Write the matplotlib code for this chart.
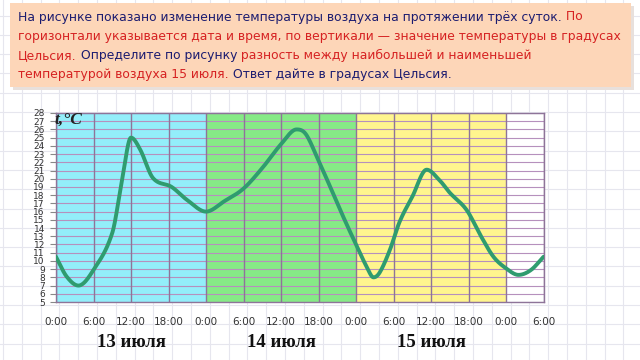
import numpy as np
import matplotlib.pyplot as plt
from matplotlib.patches import FancyBboxPatch
from matplotlib.transforms import blended_transform_factory

# ---- data (hours since 13 July 0:00, deg C) ----
hours = [0, 1.7, 3.6, 6, 9, 10.5, 12, 13.5, 15.5, 18.5, 21, 24, 27, 30, 33, 36,
         38.5, 40, 42, 44, 46, 48, 49.7, 50.8, 51.8, 53.4, 55, 57, 59.3, 61.5,
         63, 65.7, 68, 70, 72, 74, 76, 78]
temps = [10.5, 8.1, 7, 8.9, 13.4, 19.5, 25, 23.5, 20.1, 19, 17.4, 16, 17.3, 18.8,
         21.3, 24.2, 26, 25.4, 22.2, 18.8, 15.3, 12, 9.3, 8, 8.6, 11.3, 14.8,
         17.8, 21.1, 19.7, 18.3, 16.2, 13, 10.5, 9.1, 8.3, 8.9, 10.5]

tick_hours = list(range(0, 79, 6))
tick_labels = ["0:00", "6:00", "12:00", "18:00"] * 3 + ["0:00", "6:00"]
day_names = ["13 июля", "14 июля", "15 июля"]
day_colors = ["#93eefa", "#86ea86", "#fff58e", "#ffffff"]

lines_text = [
    [("На рисунке показано изменение температуры воздуха на протяжении трёх суток.", "navy"),
     (" По", "red")],
    [("горизонтали указывается дата и время, по вертикали — значение температуры в градусах", "red")],
    [("Цельсия.", "red"), (" Определите по рисунку", "navy"),
     (" разность между наибольшей и наименьшей", "red")],
    [("температурой воздуха 15 июля.", "red"), (" Ответ дайте в градусах Цельсия.", "navy")],
]
text_colors = {"navy": "#1c1c70", "red": "#d62222"}


def smooth(x, y, n=30):
    """Cubic Hermite curve through the points (flat at peaks), for drawing only."""
    x = np.asarray(x, float)
    y = np.asarray(y, float)
    m = np.zeros_like(y)
    m[0] = (y[1] - y[0]) / (x[1] - x[0])
    m[-1] = (y[-1] - y[-2]) / (x[-1] - x[-2])
    for i in range(1, len(x) - 1):
        a, b = y[i] - y[i - 1], y[i + 1] - y[i]
        if a * b > 0:
            m[i] = (y[i + 1] - y[i - 1]) / (x[i + 1] - x[i - 1])
    xs, ys = [], []
    for i in range(len(x) - 1):
        h = x[i + 1] - x[i]
        t = np.linspace(0, 1, n, endpoint=False)
        h00 = 2 * t**3 - 3 * t**2 + 1
        h10 = t**3 - 2 * t**2 + t
        h01 = -2 * t**3 + 3 * t**2
        h11 = t**3 - t**2
        xs.append(x[i] + t * h)
        ys.append(h00 * y[i] + h10 * h * m[i] + h01 * y[i + 1] + h11 * h * m[i + 1])
    return np.concatenate(xs + [[x[-1]]]), np.concatenate(ys + [[y[-1]]])


fig = plt.figure(figsize=(6.4, 3.6), dpi=100)
fig.patch.set_facecolor("white")

# page background: notebook grid
bg = fig.add_axes([0, 0, 1, 1])
bg.set_xlim(0, 640)
bg.set_ylim(360, 0)
bg.axis("off")
for gx in np.arange(3, 640, 18.8):
    bg.axvline(gx, color="#e6e6ee", lw=0.8)
for gy in np.arange(-3.8, 360, 19.3):
    bg.axhline(gy, color="#e6e6ee", lw=0.8)

# text box
bg.add_patch(FancyBboxPatch((13, 6), 621, 84, boxstyle="square,pad=0",
                            fc="#e8e0dc", ec="none", zorder=2))
bg.add_patch(FancyBboxPatch((10, 3), 621, 84, boxstyle="square,pad=0",
                            fc="#fdd6b8", ec="none", zorder=3))
for i, parts in enumerate(lines_text):
    y = 17 + i * 19.3
    t = bg.text(18, y, parts[0][0], color=text_colors[parts[0][1]],
                fontsize=8.9, va="center", ha="left", zorder=4)
    for s, c in parts[1:]:
        t = bg.annotate(s, xy=(1, 0), xycoords=t, va="bottom", ha="left",
                        color=text_colors[c], fontsize=8.9, zorder=4)

# chart
ax = fig.add_axes([56 / 640, 58 / 360, 487.5 / 640, 189 / 360])
ax.set_xlim(0, 78)
ax.set_ylim(5, 28)
for d, col in enumerate(day_colors):
    ax.axvspan(d * 24, (d + 1) * 24, color=col, lw=0, zorder=0)
for v in range(5, 29):
    ax.axhline(v, color="#b690bd", lw=0.8, zorder=1)
for h in tick_hours:
    ax.axvline(h, color="#8e7499", lw=1.0, zorder=1)
for s in ax.spines.values():
    s.set_color("#8e7499")
    s.set_linewidth(1.0)

sx, sy = smooth(hours, temps)
ax.plot(sx, sy, color="#2f9c6f", lw=2.8, solid_capstyle="round", zorder=3)

ax.set_yticks(range(5, 29))
ax.set_yticklabels([str(v) for v in range(5, 29)], fontsize=6.5, color="#333333")
ax.tick_params(axis="y", length=4, width=0.8, color="#888888", pad=4)
ax.set_xticks(tick_hours)
ax.set_xticklabels(tick_labels, fontsize=7.5, color="#333333")
ax.tick_params(axis="x", length=0, pad=11)
ax.set_xticks([0, 24, 48, 72], minor=True)
ax.tick_params(axis="x", which="minor", length=7, width=1.0, color="#8e7499")

tr = blended_transform_factory(ax.transData, ax.transAxes)
for d, name in enumerate(day_names):
    ax.text(d * 24 + 12, -0.215, name, transform=tr, ha="center", va="center",
            fontsize=13.5, fontweight="bold", family="Liberation Serif",
            color="#111111")

ax.text(-0.2, 27.2, "t,°C", ha="left", va="center", fontsize=12.5,
        fontweight="bold", fontstyle="italic", family="Liberation Serif",
        color="#222222", zorder=4)

fig.savefig("out.png", dpi=100)
